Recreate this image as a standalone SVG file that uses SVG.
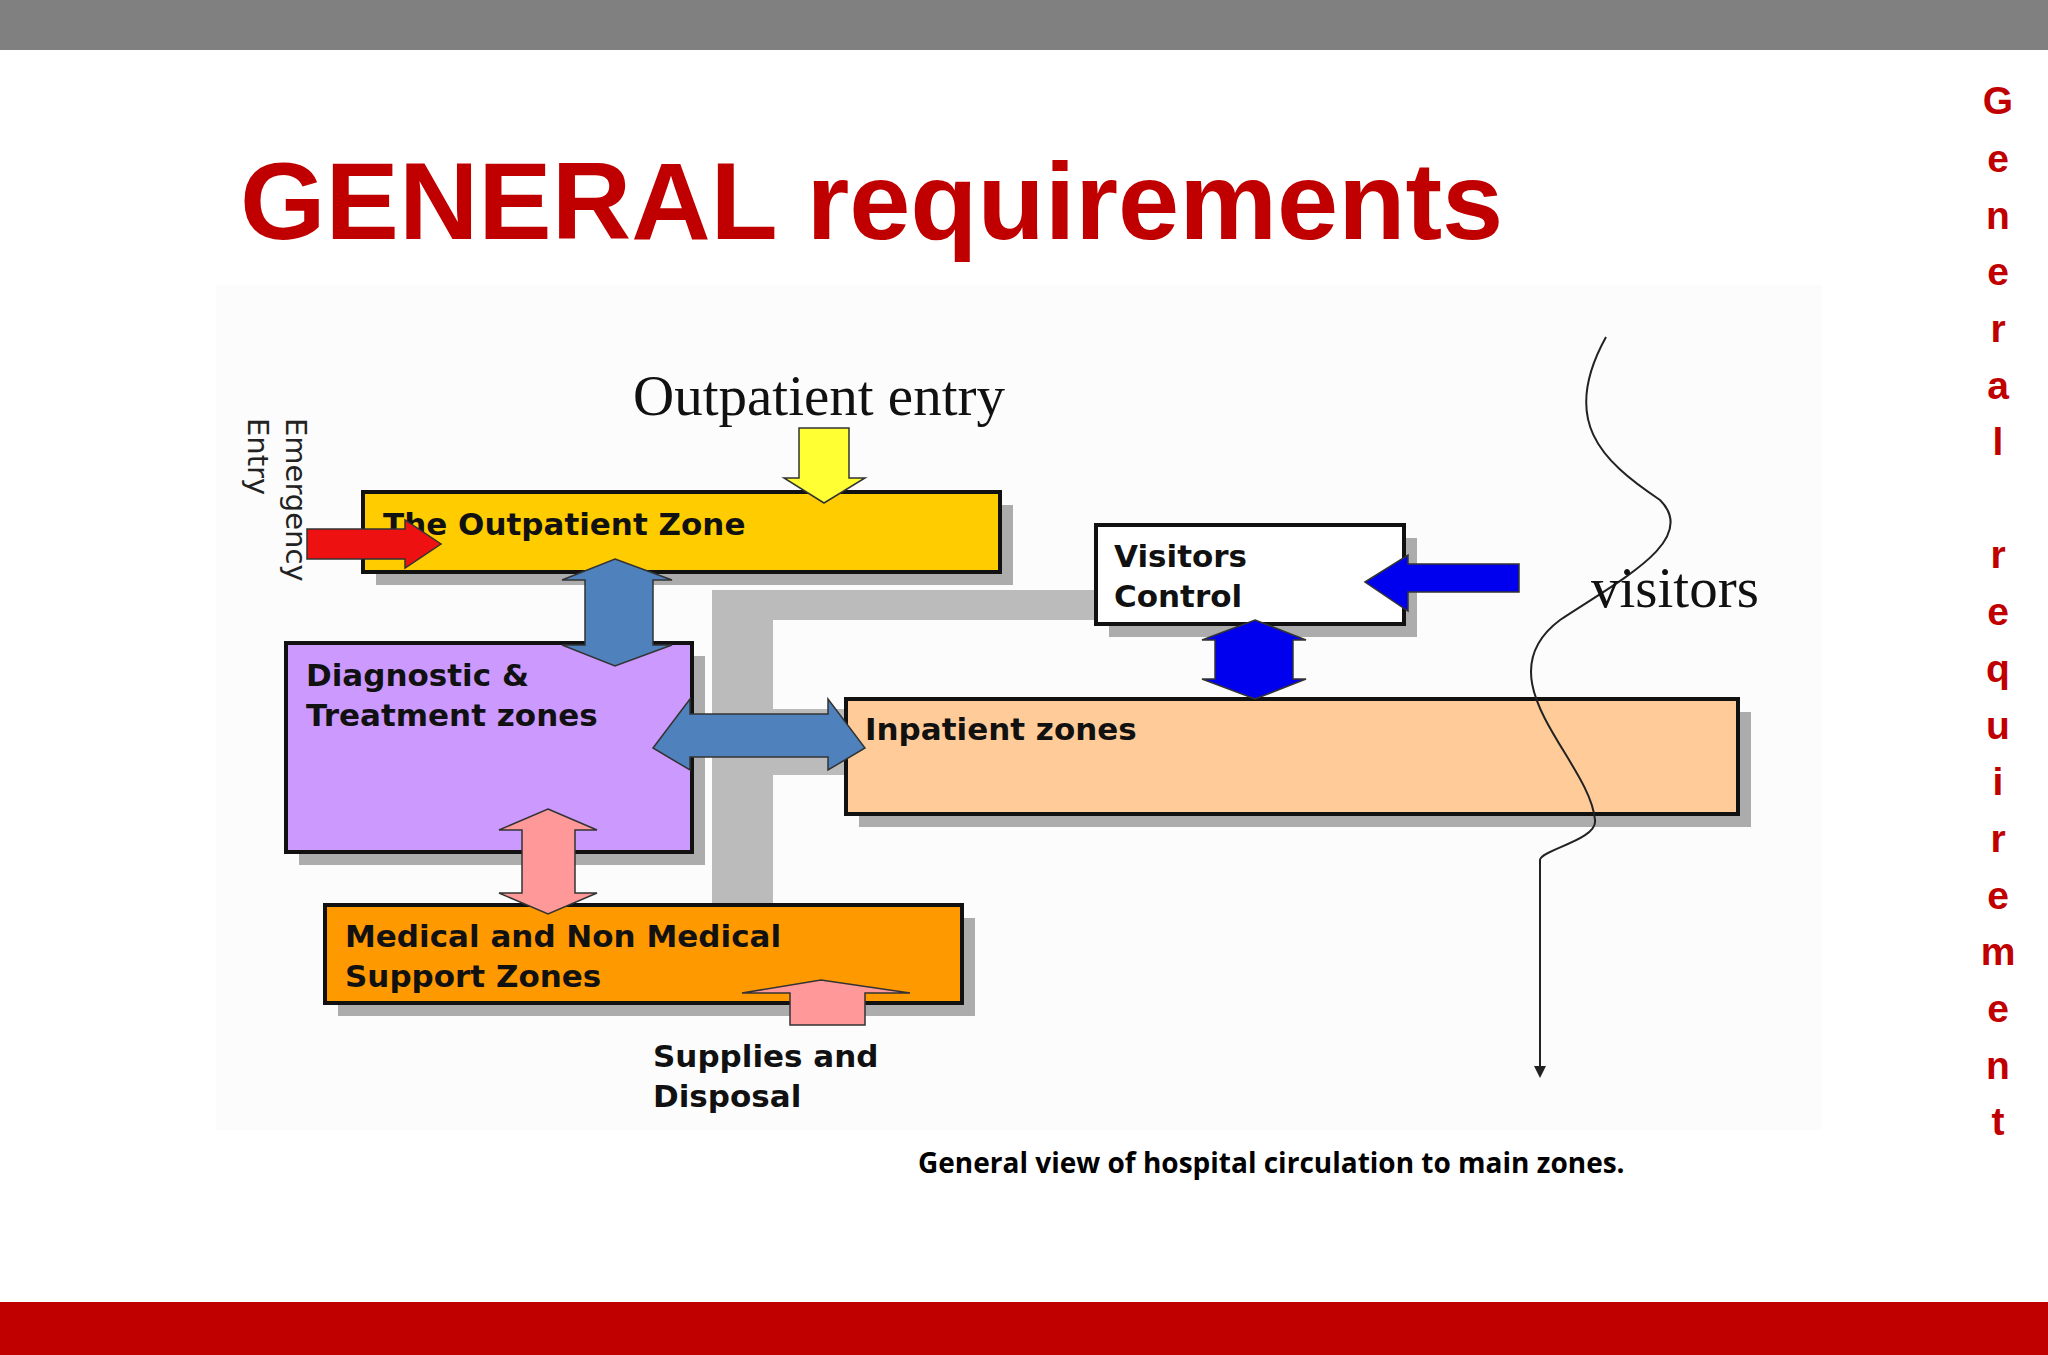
<svg xmlns="http://www.w3.org/2000/svg" width="2048" height="1355" viewBox="0 0 2048 1355">
<style>
.box{stroke:#111;stroke-width:4}
.sh{fill:#777;opacity:.6}
.lbl{font-family:"DejaVu Sans",sans-serif;font-weight:bold;font-size:31px;fill:#111}
.ser{font-family:"Liberation Serif",serif;font-size:57px;fill:#111}
.v{font-family:"Liberation Sans",sans-serif;font-weight:bold;font-size:39px;fill:#c00000;text-anchor:middle}
.ar{stroke:#333;stroke-width:1.5}
</style>
<rect width="2048" height="1355" fill="#fff"/>
<rect width="2048" height="50" fill="#808080"/>
<rect y="1302" width="2048" height="53" fill="#c00000"/>
<text x="240" y="239" font-family="Liberation Sans,sans-serif" font-weight="bold" font-size="110" fill="#c00000">GENERAL requirements</text>
<g id="side">
<text class="v" x="1998" y="114">G</text><text class="v" x="1998" y="172">e</text><text class="v" x="1998" y="229">n</text><text class="v" x="1998" y="285">e</text><text class="v" x="1998" y="342">r</text><text class="v" x="1998" y="399">a</text><text class="v" x="1998" y="455">l</text>
<text class="v" x="1998" y="568">r</text><text class="v" x="1998" y="625">e</text><text class="v" x="1998" y="682">q</text><text class="v" x="1998" y="739">u</text><text class="v" x="1998" y="795">i</text><text class="v" x="1998" y="852">r</text><text class="v" x="1998" y="909">e</text><text class="v" x="1998" y="965">m</text><text class="v" x="1998" y="1022">e</text><text class="v" x="1998" y="1079">n</text><text class="v" x="1998" y="1135">t</text>
</g>
<rect x="216" y="285" width="1606" height="845" fill="#fcfcfc"/>
<g id="corridor" fill="#bbb">
<rect x="712" y="590" width="61" height="314"/>
<rect x="773" y="590" width="323" height="30"/>
<rect x="773" y="709" width="73" height="66"/>
</g>
<g id="outpatient"><rect class="sh" x="376" y="505" width="637" height="80"/><rect class="box" x="363" y="492" width="637" height="80" fill="#ffcc00"/><text class="lbl" x="383" y="535">The Outpatient Zone</text></g>
<g id="diagnostic"><rect class="sh" x="299" y="656" width="406" height="209"/><rect class="box" x="286" y="643" width="406" height="209" fill="#cc99ff"/><text class="lbl" x="306" y="686">Diagnostic &amp;</text><text class="lbl" x="306" y="726">Treatment zones</text></g>
<g id="support"><rect class="sh" x="338" y="918" width="637" height="98"/><rect class="box" x="325" y="905" width="637" height="98" fill="#ff9900"/><text class="lbl" x="345" y="947">Medical and Non Medical</text><text class="lbl" x="345" y="987">Support Zones</text></g>
<g id="visitorsControl"><rect class="sh" x="1109" y="538" width="308" height="99"/><rect class="box" x="1096" y="525" width="308" height="99" fill="#fff"/><text class="lbl" x="1114" y="567">Visitors</text><text class="lbl" x="1114" y="607">Control</text></g>
<g id="inpatient"><rect class="sh" x="859" y="712" width="892" height="115"/><rect class="box" x="846" y="699" width="892" height="115" fill="#ffcc99"/><text class="lbl" x="865" y="740">Inpatient zones</text></g>
<g id="connectors">
<polygon class="ar" fill="#ffff33" points="799,428 849,428 849,478 865,478 824,503 784,478 799,478"/>
<polygon class="ar" fill="#ee1111" points="307,529 405,529 405,520 441,544 405,568 405,559 307,559"/>
<polygon class="ar" fill="#4f81bd" points="615,559 672,580 653,580 653,645 672,645 615,666 562,645 585,645 585,580 562,580"/>
<polygon class="ar" fill="#4f81bd" points="653,748 690,699 690,714 828,714 828,699 865,748 828,770 828,757 690,757 690,770"/>
<polygon class="ar" fill="#0000ee" points="1255,620 1306,640 1293,640 1293,679 1306,679 1255,699 1202,679 1215,679 1215,640 1202,640"/>
<polygon class="ar" fill="#0000ee" points="1365,582 1408,555 1408,564 1519,564 1519,592 1408,592 1408,611"/>
<polygon class="ar" fill="#ff9999" points="548,809 597,830 575,830 575,893 597,893 548,914 499,893 522,893 522,830 499,830"/>
<polygon class="ar" fill="#ff9999" points="821,980 910,993 865,993 865,1025 790,1025 790,993 742,993"/>
<path d="M1606,337 C1560,420 1600,460 1660,500 C1700,540 1620,580 1560,620 C1480,680 1590,760 1595,820 C1598,840 1540,850 1540,860 L1540,1070" fill="none" stroke="#222" stroke-width="2"/>
<polygon points="1534,1066 1546,1066 1540,1078" fill="#222"/>
</g>
<text class="ser" x="633" y="415">Outpatient entry</text>
<text class="ser" x="1591" y="607">visitors</text>
<text font-family="DejaVu Sans,sans-serif" font-size="29" fill="#222" transform="translate(286,418) rotate(90)">Emergency</text>
<text font-family="DejaVu Sans,sans-serif" font-size="29" fill="#222" transform="translate(248,418) rotate(90)">Entry</text>
<text class="lbl" x="653" y="1067">Supplies and</text>
<text class="lbl" x="653" y="1107">Disposal</text>
<text x="918" y="1173" font-family="Open Sans,sans-serif" font-weight="bold" font-size="28" fill="#000">General view of hospital circulation to main zones.</text>
</svg>
